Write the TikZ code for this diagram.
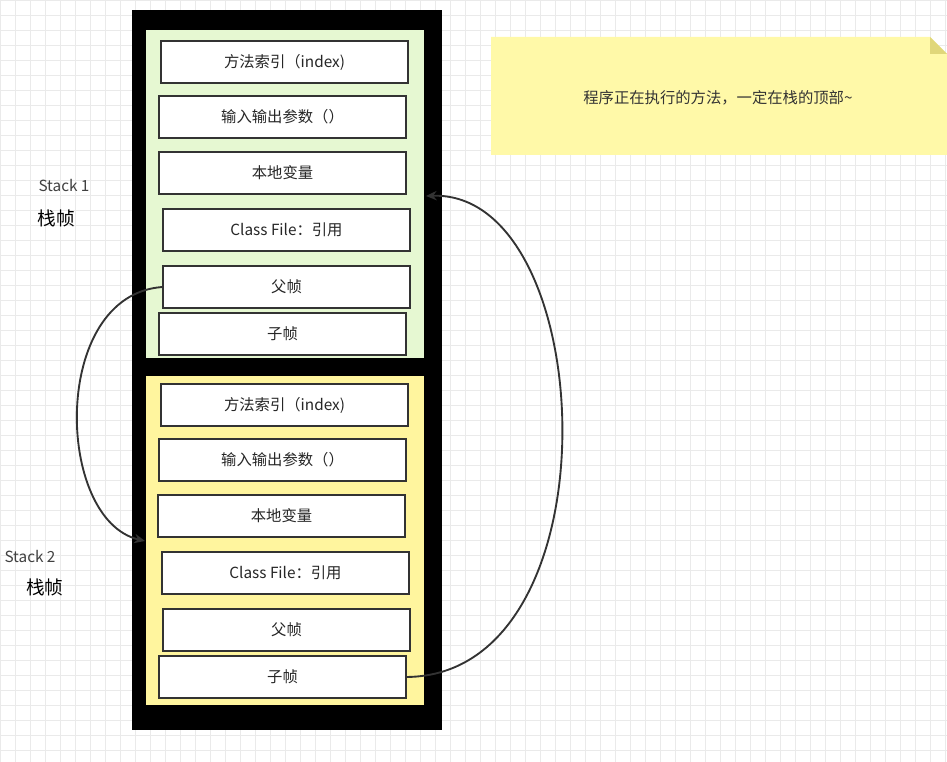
\documentclass[tikz,border=0pt]{standalone}
\usepackage{fontspec}
\setmainfont{Noto Sans CJK SC}
\usetikzlibrary{positioning,calc,arrows.meta}
\definecolor{gridc}{HTML}{EAEAEA}
\definecolor{greenbg}{HTML}{E6F8D2}
\definecolor{yellowbg}{HTML}{FFF59E}
\definecolor{notebg}{HTML}{FFF9A8}
\definecolor{notefold}{HTML}{E0D77A}
\tikzset{
  field/.style={draw=black!80,line width=1pt,fill=white,minimum width=185.25pt,minimum height=31.5pt,inner sep=0pt,font=\fontsize{11.5}{13}\selectfont,text=black!85},
  link/.style={draw=black!80,line width=1.4pt,-{Stealth[length=8pt,width=7pt]}}
}
\begin{document}
\begin{tikzpicture}[x=0.75pt,y=-0.75pt]
    \useasboundingbox (0,0) rectangle (947,762);
    \fill[white] (0,0) rectangle (947,762);
    \foreach \i in {0,15,...,945} \draw[gridc,line width=0.5pt] (\i,0) -- (\i,762);
    \foreach \j in {0,15,...,760} \draw[gridc,line width=0.5pt] (0,\j) -- (947,\j);

    % stack
    \fill[black] (132,10) rectangle (442,730);
    \fill[greenbg] (146,30) rectangle (424,358);
    \fill[yellowbg] (146,376) rectangle (424,705);

    % frame 1
    \node[field] (idx1) at (284.5,62) {方法索引（index)};
    \node[field] (io1) at (282.5,117) {输入输出参数（）};
    \node[field] (var1) at (282.5,173) {本地变量};
    \node[field] (cls1) at (286.5,230) {Class File：引用};
    \node[field] (par1) at (286.5,287) {父帧};
    \node[field] (chd1) at (282.5,334) {子帧};

    % frame 2
    \node[field] (idx2) at (284.5,405) {方法索引（index)};
    \node[field] (io2) at (282.5,460) {输入输出参数（）};
    \node[field] (var2) at (281.5,516) {本地变量};
    \node[field] (cls2) at (285.5,573) {Class File：引用};
    \node[field] (par2) at (286.5,630) {父帧};
    \node[field] (chd2) at (282.5,677) {子帧};

    \coordinate (in2) at (145,541);
    \coordinate (in1) at (426,196);
    \draw[link] (par1.west) .. controls (50,295) and (55,520) .. (in2);
    \draw[link] (chd2.east) .. controls (620,675) and (600,190) .. (in1);

    % labels
    \node[text=black!75,font=\fontsize{11.5}{13}\selectfont] (st1) at (64,186) {Stack 1};
    \node[font=\fontsize{14}{16}\selectfont] (fr1) at (56,218) {栈帧};
    \node[text=black!75,font=\fontsize{11.5}{13}\selectfont] (st2) at (30,556) {Stack 2};
    \node[font=\fontsize{14}{16}\selectfont] (fr2) at (45,587) {栈帧};

    % note
    \fill[notebg] (491,37) -- (930,37) -- (947,54) -- (947,155) -- (491,155) -- cycle;
    \fill[notefold] (930,37) -- (947,54) -- (930,54) -- cycle;
    \node[text=black!80,font=\fontsize{11.5}{13}\selectfont] (note) at (718,98) {程序正在执行的方法，一定在栈的顶部\textasciitilde};
\end{tikzpicture}
\end{document}
